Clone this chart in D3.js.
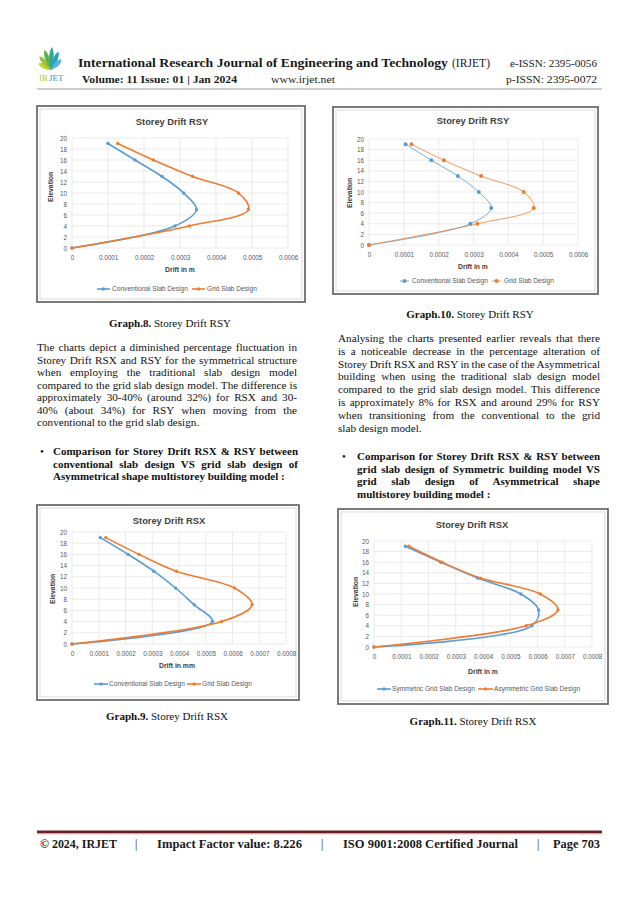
<!DOCTYPE html>
<html><head><meta charset="utf-8">
<script src="https://cdn.jsdelivr.net/npm/d3@7"></script>
<style>html,body{margin:0;padding:0;background:#fff;}svg{display:block;}</style>
</head><body>
<svg id="page" width="638" height="902"></svg>
<script>
// ---------- DATA ----------
const elevations = [0, 4, 7, 10, 13, 16, 19];
const elevationTicks = [0, 2, 4, 6, 8, 10, 12, 14, 16, 18, 20];
const driftTicks6 = [0, 0.0001, 0.0002, 0.0003, 0.0004, 0.0005, 0.0006];
const driftTicks8 = [0, 0.0001, 0.0002, 0.0003, 0.0004, 0.0005, 0.0006, 0.0007, 0.0008];

const g8Conventional = [0, 0.000286, 0.000346, 0.000310, 0.000250, 0.000175, 0.000100];
const g8Grid         = [0, 0.000326, 0.000490, 0.000462, 0.000335, 0.000226, 0.000127];
const g10Conventional = [0, 0.000291, 0.000351, 0.000315, 0.000255, 0.000179, 0.000105];
const g10Grid         = [0, 0.000311, 0.000473, 0.000444, 0.000322, 0.000215, 0.000122];
const g9Conventional = [0, 0.000525, 0.000457, 0.000387, 0.000306, 0.000210, 0.000106];
const g9Grid         = [0, 0.000559, 0.000673, 0.000607, 0.000390, 0.000251, 0.000126];
const g11Symmetric   = [0, 0.000579, 0.000604, 0.000539, 0.000380, 0.000245, 0.000115];
const g11Asymmetric  = [0, 0.000559, 0.000675, 0.000610, 0.000391, 0.000250, 0.000128];

const leftParagraph = [
  "The charts depict a diminished percentage fluctuation in",
  "Storey Drift RSX and RSY for the symmetrical structure",
  "when employing the traditional slab design model",
  "compared to the grid slab design model. The difference is",
  "approximately 30-40% (around 32%) for RSX and 30-",
  "40% (about 34%) for RSY when moving from the",
  "conventional to the grid slab design."
];
const leftBullet = [
  "Comparison for Storey Drift RSX & RSY between",
  "conventional slab design VS grid slab design of",
  "Asymmetrical shape multistorey building model :"
];
const rightParagraph = [
  "Analysing the charts presented earlier reveals that there",
  "is a noticeable decrease in the percentage alteration of",
  "Storey Drift RSX and RSY in the case of the Asymmetrical",
  "building when using the traditional slab design model",
  "compared to the grid slab design model. This difference",
  "is approximately 8% for RSX and around 29% for RSY",
  "when transitioning from the conventional to the grid",
  "slab design model."
];
const rightBullet = [
  "Comparison for Storey Drift RSX & RSY between",
  "grid slab design of Symmetric building model VS",
  "grid   slab   design   of   Asymmetrical   shape",
  "multistorey building model :"
];

// ---------- PAGE ----------
const svg = d3.select("#page");
const SERIF = "'Liberation Serif','DejaVu Serif',serif";
const SANS = "'Liberation Sans','Open Sans',Arial,sans-serif";
const BLUE = "#5b9bd5", ORANGE = "#ed7d31";

function fitText(sel, width) {
  sel.attr("textLength", width).attr("lengthAdjust", "spacingAndGlyphs");
}
function justifyLine(g, txt, x, y, width, justify, opts) {
  const t = g.append("text").attr("x", x).attr("y", y)
    .attr("font-family", SERIF).attr("font-size", opts.size)
    .attr("font-weight", opts.bold ? "bold" : "normal").attr("fill", "#111")
    .style("white-space", "pre").text(txt);
  if (justify) {
    const nat = t.node().getComputedTextLength();
    const spaces = (txt.match(/ /g) || []).length;
    if (spaces > 0) t.style("word-spacing", ((width - nat) / spaces) + "px");
  }
  return t;
}

// Header
const logo = svg.append("g");
const leafData = [
  {a: -62, c: "#c6d32a", l: 14}, {a: -40, c: "#9cc43a", l: 18}, {a: -18, c: "#5db34a", l: 21},
  {a: 2, c: "#34a88c", l: 23}, {a: 22, c: "#2a9fc4", l: 20}, {a: 44, c: "#5bb5d6", l: 15}
];
leafData.forEach(d => {
  logo.append("path")
    .attr("d", `M0,0 C${-3},${-d.l*0.4} ${-3},${-d.l*0.8} 0,${-d.l} C${3},${-d.l*0.8} ${3},${-d.l*0.4} 0,0Z`)
    .attr("fill", d.c).attr("transform", `translate(51,70) rotate(${d.a})`);
});
logo.append("text").attr("x", 39).attr("y", 81).attr("font-family", SERIF).attr("font-size", 9)
  .attr("fill", "#b8c82a").text("IR");
logo.append("text").attr("x", 49).attr("y", 81).attr("font-family", SERIF).attr("font-size", 9)
  .attr("fill", "#3b8fc8").text("JET");

const h1 = svg.append("text").attr("x", 78).attr("y", 67).attr("font-family", SERIF)
  .attr("font-size", 13.5).attr("font-weight", "bold").attr("fill", "#1a1a1a")
  .text("International Research Journal of Engineering and Technology");
fitText(h1, 370);
svg.append("text").attr("x", 452).attr("y", 67).attr("font-family", SERIF).attr("font-size", 13.5)
  .attr("fill", "#1a1a1a").text("(IRJET)").call(s => fitText(s, 38));
svg.append("text").attr("x", 510).attr("y", 67).attr("font-family", SERIF).attr("font-size", 10.5)
  .attr("fill", "#1a1a1a").text("e-ISSN: 2395-0056").call(s => fitText(s, 87));
svg.append("text").attr("x", 82).attr("y", 83).attr("font-family", SERIF).attr("font-size", 10.5)
  .attr("font-weight", "bold").attr("fill", "#1a1a1a").text("Volume: 11 Issue: 01 | Jan 2024").call(s => fitText(s, 155));
svg.append("text").attr("x", 271).attr("y", 83).attr("font-family", SERIF).attr("font-size", 10.5)
  .attr("fill", "#1a1a1a").text("www.irjet.net").call(s => fitText(s, 64));
svg.append("text").attr("x", 506).attr("y", 83).attr("font-family", SERIF).attr("font-size", 10.5)
  .attr("fill", "#1a1a1a").text("p-ISSN: 2395-0072").call(s => fitText(s, 91));
svg.append("line").attr("x1", 37).attr("x2", 602).attr("y1", 89).attr("y2", 89)
  .attr("stroke", "#9a9a9a").attr("stroke-width", 1);

// ---------- CHART FUNCTION ----------
function drawChart(cfg) {
  const g = svg.append("g");
  // frame
  g.append("rect").attr("x", cfg.box[0]).attr("y", cfg.box[1])
    .attr("width", cfg.box[2] - cfg.box[0]).attr("height", cfg.box[3] - cfg.box[1])
    .attr("fill", "#fff").attr("stroke", "#6d6d6d").attr("stroke-width", 1.8);
  g.append("rect").attr("x", cfg.box[0] + 3).attr("y", cfg.box[1] + 3)
    .attr("width", cfg.box[2] - cfg.box[0] - 6).attr("height", cfg.box[3] - cfg.box[1] - 6)
    .attr("fill", "none").attr("stroke", "#d0d0d0").attr("stroke-width", 0.8);

  const x = d3.scaleLinear().domain([0, cfg.xMax]).range([cfg.px0, cfg.px1]);
  const y = d3.scaleLinear().domain([0, 20]).range([cfg.py0, cfg.py1]);

  // gridlines
  g.append("g").selectAll("line.h").data(elevationTicks).join("line")
    .attr("x1", cfg.px0).attr("x2", cfg.px1).attr("y1", d => y(d)).attr("y2", d => y(d))
    .attr("stroke", "#e2e2e2").attr("stroke-width", 0.7);
  g.append("g").selectAll("line.v").data(cfg.xTicks).join("line")
    .attr("x1", d => x(d)).attr("x2", d => x(d)).attr("y1", cfg.py0).attr("y2", cfg.py1)
    .attr("stroke", "#e2e2e2").attr("stroke-width", 0.7);

  // axes (labels only, Excel style)
  const yAxis = d3.axisLeft(y).tickValues(elevationTicks).tickSize(0).tickPadding(5);
  const ya = g.append("g").attr("transform", `translate(${cfg.px0},0)`).call(yAxis);
  ya.select(".domain").remove();
  ya.selectAll("text").attr("font-family", SANS).attr("font-size", 6.3).attr("fill", "#595959");
  const xAxis = d3.axisBottom(x).tickValues(cfg.xTicks).tickSize(0).tickPadding(cfg.xPad)
    .tickFormat(d => d === 0 ? "0" : d3.format(".4f")(d));
  const xa = g.append("g").attr("transform", `translate(0,${cfg.py0})`).call(xAxis);
  xa.select(".domain").remove();
  xa.selectAll("text").attr("font-family", SANS).attr("font-size", 6.3).attr("fill", "#595959");

  // titles
  g.append("text").attr("x", cfg.title[0]).attr("y", cfg.title[1]).attr("text-anchor", "middle")
    .attr("font-family", SANS).attr("font-size", 9.3).attr("font-weight", "bold").attr("fill", "#404040")
    .text(cfg.titleText);
  g.append("text").attr("x", cfg.xTitle[0]).attr("y", cfg.xTitle[1]).attr("text-anchor", "middle")
    .attr("font-family", SANS).attr("font-size", 6.8).attr("font-weight", "bold").attr("fill", "#404040")
    .text(cfg.xTitleText);
  g.append("text").attr("transform", `translate(${cfg.yTitle[0]},${cfg.yTitle[1]}) rotate(-90)`)
    .attr("text-anchor", "middle").attr("font-family", SANS).attr("font-size", 6.8)
    .attr("font-weight", "bold").attr("fill", "#404040").text("Elevation");

  // series
  const line = d3.line().x(d => x(d[0])).y(d => y(d[1])).curve(d3.curveCatmullRom.alpha(0.5));
  cfg.series.forEach(s => {
    const pts = s.values.map((v, i) => [v, elevations[i]]);
    g.append("path").attr("d", line(pts)).attr("fill", "none").attr("stroke", s.color)
      .attr("stroke-width", cfg.lineW);
    g.append("g").selectAll("circle").data(pts).join("circle")
      .attr("cx", d => x(d[0])).attr("cy", d => y(d[1])).attr("r", cfg.markerR).attr("fill", s.color);
  });

  // legend
  cfg.series.forEach(s => {
    const [lx0, lx1, tx] = s.legend;
    g.append("line").attr("x1", lx0).attr("x2", lx1).attr("y1", cfg.legendY).attr("y2", cfg.legendY)
      .attr("stroke", s.color).attr("stroke-width", cfg.lineW);
    g.append("circle").attr("cx", (lx0 + lx1) / 2).attr("cy", cfg.legendY).attr("r", cfg.markerR).attr("fill", s.color);
    g.append("text").attr("x", tx).attr("y", cfg.legendY + 2.3).attr("font-family", SANS)
      .attr("font-size", 6.6).attr("fill", "#595959").text(s.name);
  });
}

// Graph 8
drawChart({
  box: [37, 106, 305, 302], px0: 72, px1: 288, py0: 248, py1: 138, xMax: 0.0006, xTicks: driftTicks6, xPad: 8,
  title: [172, 125], titleText: "Storey Drift RSY", xTitle: [180, 272], xTitleText: "Drift in m",
  yTitle: [53, 187], lineW: 1.6, markerR: 1.7, legendY: 289,
  series: [
    {name: "Conventional Slab Design", values: g8Conventional, color: BLUE, legend: [97, 110, 112]},
    {name: "Grid Slab Design", values: g8Grid, color: ORANGE, legend: [192, 205, 207]}
  ]
});
// Graph 10
drawChart({
  box: [333, 107, 598, 294], px0: 369, px1: 578, py0: 245, py1: 139, xMax: 0.0006, xTicks: driftTicks6, xPad: 8,
  title: [473, 124], titleText: "Storey Drift RSY", xTitle: [473, 269], xTitleText: "Drift in m",
  yTitle: [352, 193], lineW: 0.8, markerR: 2.0, legendY: 281,
  series: [
    {name: "Conventional Slab Design", values: g10Conventional, color: BLUE, legend: [400, 409, 412]},
    {name: "Grid Slab Design", values: g10Grid, color: ORANGE, legend: [492, 501, 504]}
  ]
});
// Graph 9
drawChart({
  box: [37, 505, 299, 700], px0: 72, px1: 286, py0: 644, py1: 532, xMax: 0.0008, xTicks: driftTicks8, xPad: 8,
  title: [169, 524], titleText: "Storey Drift RSX", xTitle: [177, 668], xTitleText: "Drift in mm",
  yTitle: [55, 589], lineW: 1.6, markerR: 1.7, legendY: 684,
  series: [
    {name: "Conventional Slab Design", values: g9Conventional, color: BLUE, legend: [94, 108, 109]},
    {name: "Grid Slab Design", values: g9Grid, color: ORANGE, legend: [187, 201, 202]}
  ]
});
// Graph 11
drawChart({
  box: [338, 509, 608, 704], px0: 374, px1: 592, py0: 647, py1: 541, xMax: 0.0008, xTicks: driftTicks8, xPad: 8,
  title: [472, 528], titleText: "Storey Drift RSX", xTitle: [483, 674], xTitleText: "Drift in m",
  yTitle: [358, 592], lineW: 1.6, markerR: 1.7, legendY: 689,
  series: [
    {name: "Symmetric Grid Slab Design", values: g11Symmetric, color: BLUE, legend: [377, 391, 392]},
    {name: "Asymmetric Grid Slab Design", values: g11Asymmetric, color: ORANGE, legend: [478, 493, 494]}
  ]
});

// ---------- CAPTIONS ----------
function caption(cx, y, bold, rest) {
  const t = svg.append("text").attr("x", cx).attr("y", y).attr("text-anchor", "middle")
    .attr("font-family", SERIF).attr("font-size", 11).attr("fill", "#111");
  t.append("tspan").attr("font-weight", "bold").text(bold);
  t.append("tspan").text(rest);
}
caption(170, 327, "Graph.8.", " Storey Drift  RSY");
caption(470, 318, "Graph.10.", " Storey Drift RSY");
caption(167, 720, "Graph.9.", " Storey Drift RSX");
caption(473, 725, "Graph.11.", " Storey Drift RSX");

// ---------- PARAGRAPHS ----------
const textG = svg.append("g");
leftParagraph.forEach((l, i) =>
  justifyLine(textG, l, 37, 351 + i * 12.55, 260, i < leftParagraph.length - 1, {size: 11.2}));
textG.append("text").attr("x", 40).attr("y", 455).attr("font-family", SERIF).attr("font-size", 11).text("•");
leftBullet.forEach((l, i) =>
  justifyLine(textG, l, 53, 455 + i * 12.6, 245, i < leftBullet.length - 1, {size: 11, bold: true}));

rightParagraph.forEach((l, i) =>
  justifyLine(textG, l, 338, 342 + i * 12.8, 262, i < rightParagraph.length - 1, {size: 11.2}));
textG.append("text").attr("x", 342).attr("y", 460).attr("font-family", SERIF).attr("font-size", 11).text("•");
rightBullet.forEach((l, i) =>
  justifyLine(textG, l.replace(/ +/g, " "), 357, 460 + i * 12.6, 243, i < rightBullet.length - 1, {size: 11, bold: true}));

// ---------- FOOTER ----------
svg.append("rect").attr("x", 37).attr("y", 830.5).attr("width", 565).attr("height", 2.8).attr("fill", "#6b1f24");
svg.append("rect").attr("x", 37).attr("y", 833.3).attr("width", 565).attr("height", 1).attr("fill", "#c9a0a0");
const foot = [
  ["© 2024, IRJET", 40, 77], ["|", 135, 0], ["Impact Factor value: 8.226", 157, 145],
  ["|", 321, 0], ["ISO 9001:2008 Certified Journal", 343, 175], ["|", 537, 0], ["Page 703", 553, 47]
];
foot.forEach(f => {
  const t = svg.append("text").attr("x", f[1]).attr("y", 848).attr("font-family", SERIF)
    .attr("font-size", 11.5).attr("font-weight", f[0] === "|" ? "normal" : "bold").attr("fill", "#1a1a1a").text(f[0]);
  if (f[2]) fitText(t, f[2]);
});
</script>
</body></html>
